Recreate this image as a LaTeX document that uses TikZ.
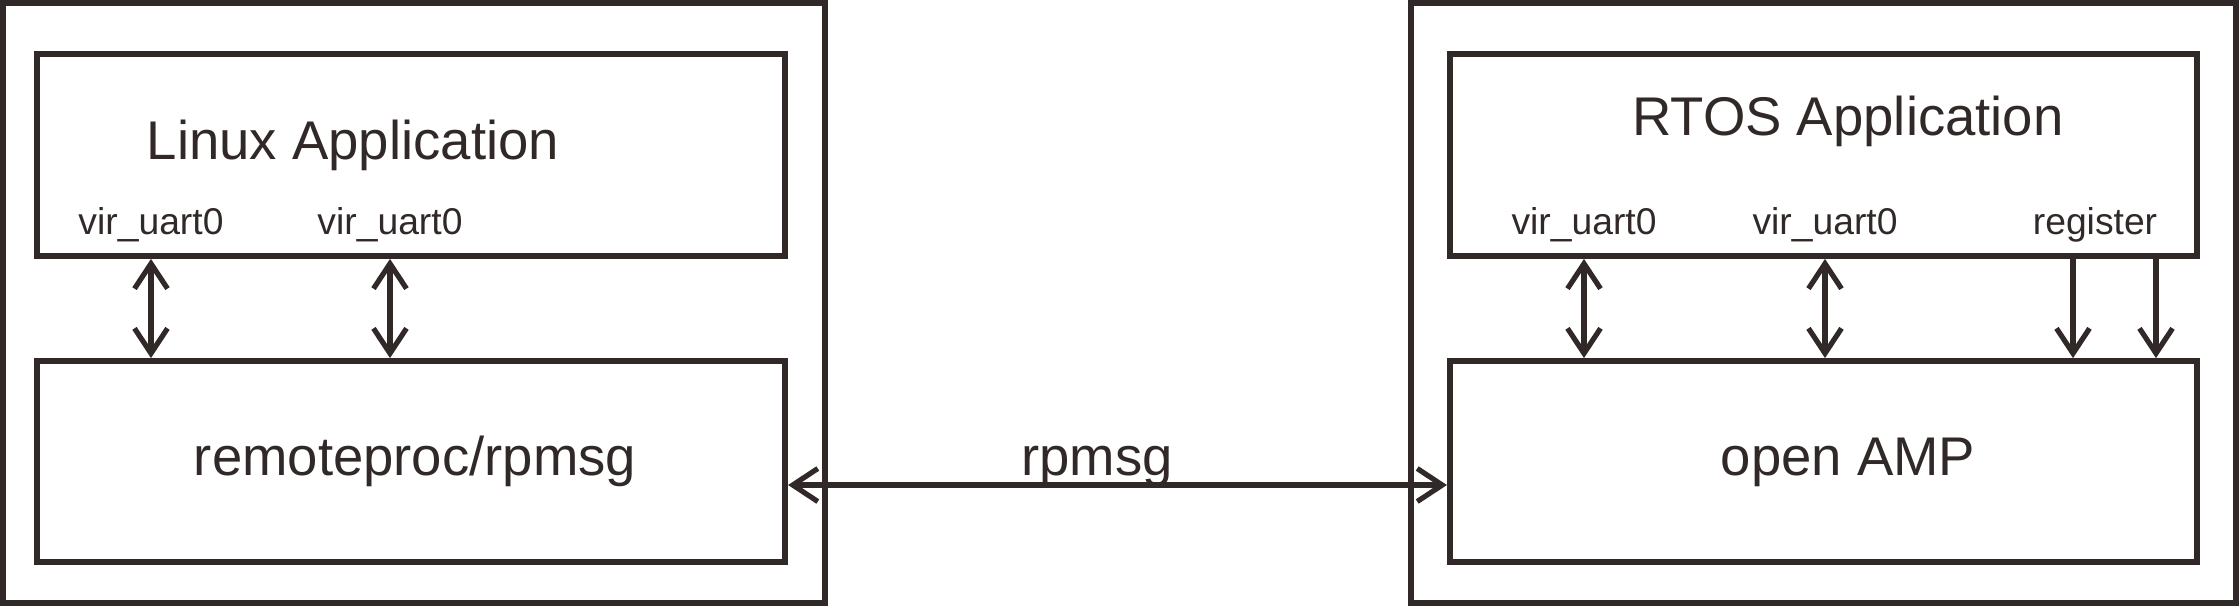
\documentclass[tikz,border=0pt]{standalone}
\usepackage{fontspec}
\setmainfont{Liberation Sans}
\usetikzlibrary{arrows.meta}
\definecolor{ink}{RGB}{49,41,40}
\begin{document}
\begin{tikzpicture}[x=0.01cm,y=-0.01cm,ink,
    >={Straight Barb[length=0.25cm,width=0.33cm]},
    box/.style={draw=ink,line width=0.057cm,minimum width=7.475cm,minimum height=2.02cm,inner sep=0pt},
    big/.style={font=\fontsize{15.5}{18}\selectfont,anchor=base,inner sep=0pt},
    small/.style={font=\fontsize{10.6}{12}\selectfont,anchor=base,inner sep=0pt},
    link/.style={line width=0.052cm}]
    \useasboundingbox (0,0) rectangle (2239,606);

    % linux side
    \node[box,minimum width=8.215cm,minimum height=5.99cm] (linux) at (414.25,303) {};
    \node[box] (lapp) at (411.25,155) {};
    \node[box,minimum height=2.01cm] (lproc) at (411.25,461.5) {};
    \node[big] (lapptext) at (353,159) {Linux Application};
    \node[small] (luart1) at (151,234) {vir\_uart0};
    \node[small] (luart2) at (390,234) {vir\_uart0};
    \node[big] (lproctext) at (415,475) {remoteproc/rpmsg};
    \draw[<->,link] (luart1 |- lapp.south) -- (luart1 |- lproc.north);
    \draw[<->,link] (luart2 |- lapp.south) -- (luart2 |- lproc.north);

    % rtos side
    \node[box,minimum width=8.245cm,minimum height=5.99cm] (rtos) at (1823.25,303) {};
    \node[box,minimum width=7.47cm] (rapp) at (1823.5,155) {};
    \node[box,minimum width=7.47cm,minimum height=2.01cm] (ramp) at (1823.5,461.5) {};
    \node[big] (rapptext) at (1848,135) {RTOS Application};
    \node[small] (ruart1) at (1584,234) {vir\_uart0};
    \node[small] (ruart2) at (1825,234) {vir\_uart0};
    \node[small] (rreg) at (2095,234) {register};
    \node[big] (ramptext) at (1848,475) {open AMP};
    \coordinate (rreg1) at (2073,234);
    \coordinate (rreg2) at (2156,234);
    \draw[<->,link] (ruart1 |- rapp.south) -- (ruart1 |- ramp.north);
    \draw[<->,link] (ruart2 |- rapp.south) -- (ruart2 |- ramp.north);
    \draw[->,link] (rreg1 |- rapp.south) -- (rreg1 |- ramp.north);
    \draw[->,link] (rreg2 |- rapp.south) -- (rreg2 |- ramp.north);

    % rpmsg between the two
    \draw[<->,link] ([yshift=-0.235cm]lproc.east) -- ([yshift=-0.235cm]ramp.west);
    \node[big] (rpmsg) at (1097,475) {rpmsg};
\end{tikzpicture}
\end{document}
